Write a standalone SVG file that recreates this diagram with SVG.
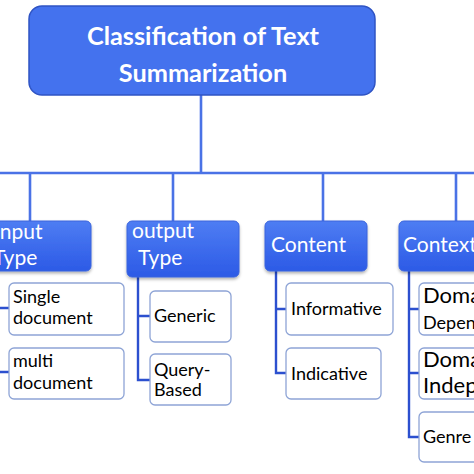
<svg xmlns="http://www.w3.org/2000/svg" width="474" height="474" viewBox="0 0 474 474">
<defs>
<linearGradient id="catg" x1="0" y1="0" x2="0" y2="1">
<stop offset="0" stop-color="#4e7df3"/>
<stop offset="1" stop-color="#2c5ae6"/>
</linearGradient>
<filter id="sh" x="-10%" y="-10%" width="120%" height="130%">
<feDropShadow dx="0" dy="2" stdDeviation="1.5" flood-color="#000" flood-opacity="0.3"/>
</filter>
<style>
.title{font-family:Lato,"Open Sans",sans-serif;font-weight:bold;font-size:25.3px;fill:#fff;text-anchor:middle}
.cat{font-family:Lato,"Open Sans",sans-serif;font-size:21px;fill:#fff}
.leaf{font-family:Lato,"Open Sans",sans-serif;font-size:18px;fill:#000}
.big{font-size:22px}
.catbox{fill:url(#catg);stroke:#3b64dc;stroke-width:1;filter:url(#sh)}
.leafbox{fill:#fff;stroke:#8ea4d6;stroke-width:1.3}
.main{stroke:#4a72e6;stroke-width:2.6;fill:none}
.sub{stroke:#2c50cf;stroke-width:2.4;fill:none}
</style>
</defs>
<rect width="474" height="474" fill="#fff"/>
<g id="connectors">
<path class="main" d="M201 95 V173 M0 173 H474 M30 173 V221 M173 173 V221 M323 173 V221 M456 173 V221"/>
<path class="sub" d="M-3 271 V372 M-3 308 H9 M-3 372 H9"/>
<path class="sub" d="M138 277 V380 H150 M138 316 H150"/>
<path class="sub" d="M276 271 V373 H286 M276 309 H286"/>
<path class="sub" d="M409 271 V437 H419 M409 309 H419 M409 373 H419"/>
</g>
<g id="root">
<rect x="29" y="6" width="346" height="89" rx="13" fill="#4472ee" stroke="#2f54c4" stroke-width="1.5"/>
<text class="title" x="203" y="45">Classification of Text</text>
<text class="title" x="203" y="82">Summarization</text>
</g>
<g id="input-type">
<rect class="catbox" x="-10" y="221" width="101" height="50" rx="5"/>
<text class="cat" x="-6" y="239">Input</text>
<text class="cat" x="-7" y="265">Type</text>
</g>
<g id="output-type">
<rect class="catbox" x="127" y="221" width="112" height="56" rx="5"/>
<text class="cat" x="132" y="238">output</text>
<text class="cat" x="138" y="265">Type</text>
</g>
<g id="content">
<rect class="catbox" x="265" y="221" width="102" height="50" rx="5"/>
<text class="cat" x="271" y="252">Content</text>
</g>
<g id="context">
<rect class="catbox" x="399" y="221" width="90" height="50" rx="5"/>
<text class="cat" x="403" y="252">Context</text>
</g>
<g id="single-document">
<rect class="leafbox" x="9" y="283" width="115" height="52" rx="5"/>
<text class="leaf" x="13" y="303">Single</text>
<text class="leaf" x="13" y="324">document</text>
</g>
<g id="multi-document">
<rect class="leafbox" x="9" y="348" width="115" height="51" rx="5"/>
<text class="leaf" x="13" y="367">multi</text>
<text class="leaf" x="13" y="389">document</text>
</g>
<g id="generic">
<rect class="leafbox" x="150" y="291" width="81" height="51" rx="5"/>
<text class="leaf" x="154" y="322">Generic</text>
</g>
<g id="query-based">
<rect class="leafbox" x="150" y="354" width="81" height="51" rx="5"/>
<text class="leaf" x="154" y="376">Query-</text>
<text class="leaf" x="154" y="396">Based</text>
</g>
<g id="informative">
<rect class="leafbox" x="286" y="283" width="107" height="52" rx="5"/>
<text class="leaf" x="291" y="315">Informative</text>
</g>
<g id="indicative">
<rect class="leafbox" x="286" y="348" width="95" height="51" rx="5"/>
<text class="leaf" x="291" y="380">Indicative</text>
</g>
<g id="domain-dependent">
<rect class="leafbox" x="419" y="283" width="70" height="52" rx="5"/>
<text class="leaf big" x="423" y="303">Domain</text>
<text class="leaf" x="423" y="329">Dependent</text>
</g>
<g id="domain-independent">
<rect class="leafbox" x="419" y="348" width="70" height="51" rx="5"/>
<text class="leaf big" x="423" y="367">Domain</text>
<text class="leaf big" x="423" y="393">Independent</text>
</g>
<g id="genre">
<rect class="leafbox" x="419" y="412" width="70" height="50" rx="5"/>
<text class="leaf" x="423" y="443">Genre</text>
</g>
</svg>
